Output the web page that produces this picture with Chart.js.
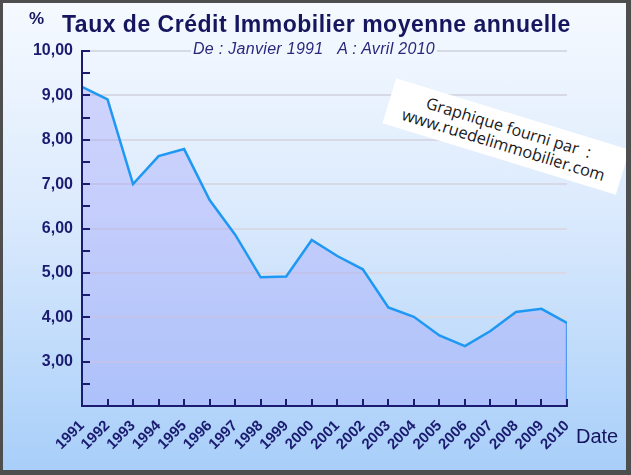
<!DOCTYPE html>
<html>
<head>
<meta charset="utf-8">
<script src="https://cdn.jsdelivr.net/npm/chart.js@4"></script>
<style>
  html, body { margin: 0; padding: 0; }
  #box {
    position: relative; width: 631px; height: 475px; overflow: hidden;
    background: linear-gradient(to bottom, #f6faff 0%, #dbeafd 45%, #a7cef9 100%);
    font-family: "Liberation Sans", Arial, sans-serif;
  }
  #box canvas { position: absolute; left: 0; top: 0; }
  .txt { position: absolute; line-height: 1; white-space: pre; color: #16165e; }
  #frame {
    position: absolute; left: 0; top: 0; width: 631px; height: 475px; box-sizing: border-box;
    border-style: solid; border-color: #4e4e4e; border-width: 3px 5px 5px 3px; pointer-events: none;
  }
  #note {
    position: absolute; left: 384px; top: 113px; width: 244px; height: 47px;
    background: #fff; transform: rotate(17deg);
    font-family: "Open Sans", sans-serif; color: #1a1a1a; text-align: center;
  }
  #note div { white-space: pre; line-height: 18px; }
</style>
</head>
<body>
<div id="box">
  <canvas id="c" width="631" height="475"></canvas>
  <div class="txt" style="left:29px; top:10px; font-size:17px; font-weight:bold;">%</div>
  <div class="txt" style="left:62px; top:13px; font-size:23px; font-weight:bold; letter-spacing:0.5px;">Taux de Crédit Immobilier moyenne annuelle</div>
  <div class="txt" style="left:191px; top:41px; font-size:16px; font-style:italic; color:#28287c; background:#f1f7ff; padding:0 2px; letter-spacing:0.3px;">De : Janvier 1991   A : Avril 2010</div>
  <div class="txt" style="left:576px; top:426px; font-size:20px;">Date</div>
  <div id="note"><div id="l1" style="padding-top:5px;">Graphique fourni par  :</div><div id="l2">www.ruedelimmobilier.com</div></div>
  <div id="frame"></div>
</div>
<script>
// données
const years = [1991, 1992, 1993, 1994, 1995, 1996, 1997, 1998, 1999, 2000,
               2001, 2002, 2003, 2004, 2005, 2006, 2007, 2008, 2009, 2010];
const rates = [9.19, 8.91, 7.00, 7.63, 7.79, 6.64, 5.86, 4.90, 4.92, 5.74,
               5.38, 5.08, 4.22, 4.01, 3.59, 3.35, 3.69, 4.12, 4.19, 3.87];
const yMin = 2;
const yMax = 10;
const yLabels = [3, 4, 5, 6, 7, 8, 9, 10];

const navy = "#1b1b70";

// ajuste la taille du texte du cartouche
function fitLine(id, target) {
  const el = document.getElementById(id);
  let size = 16;
  el.style.fontSize = size + "px";
  const span = document.createElement("span");
  span.textContent = el.textContent;
  span.style.whiteSpace = "pre";
  el.textContent = "";
  el.appendChild(span);
  size = size * target / span.offsetWidth;
  el.style.fontSize = size.toFixed(2) + "px";
}
fitLine("l1", 172);
fitLine("l2", 212);

// petits traits vers l'intérieur + axes
const innerTicks = {
  id: "innerTicks",
  afterDraw(chart) {
    const ctx = chart.ctx;
    const x = chart.scales.x;
    const y = chart.scales.y;
    const area = chart.chartArea;
    ctx.save();
    ctx.strokeStyle = navy;
    ctx.lineWidth = 2;
    ctx.beginPath();
    for (let v = yMin + 0.5; v <= yMax; v += 0.5) {
      const py = Math.round(y.getPixelForValue(v));
      ctx.moveTo(area.left, py);
      ctx.lineTo(area.left + 8, py);
    }
    years.slice(1).forEach((yr) => {
      const px = Math.round(x.getPixelForValue(yr));
      ctx.moveTo(px, area.bottom);
      ctx.lineTo(px, area.bottom - 7);
    });
    ctx.moveTo(area.left, area.top);
    ctx.lineTo(area.left, area.bottom);
    ctx.lineTo(area.right + 1, area.bottom);
    ctx.stroke();
    ctx.restore();
  }
};

const lineColor = "#1e98f2";

new Chart(document.getElementById("c"), {
  type: "line",
  data: {
    datasets: [
      {
        data: years.map((yr, i) => ({ x: yr, y: rates[i] })),
        borderColor: lineColor,
        borderWidth: 2.5,
        backgroundColor: "rgba(160,160,250,0.38)",
        fill: "start",
        pointRadius: 0,
        tension: 0
      },
      {
        data: [
          { x: years[years.length - 1], y: rates[rates.length - 1] },
          { x: years[years.length - 1], y: yMin }
        ],
        borderColor: lineColor,
        borderWidth: 2.5,
        fill: false,
        pointRadius: 0
      }
    ]
  },
  options: {
    responsive: false,
    animation: false,
    layout: { padding: { top: 51, left: 0, right: 64, bottom: 0 } },
    plugins: { legend: { display: false }, tooltip: { enabled: false } },
    scales: {
      x: {
        type: "linear",
        min: years[0],
        max: years[years.length - 1],
        afterFit: (s) => { s.height = 69; },
        grid: { display: false, drawTicks: false },
        border: { display: true, color: navy, width: 2 },
        ticks: {
          stepSize: 1,
          autoSkip: false,
          minRotation: 45,
          maxRotation: 45,
          padding: 11,
          color: navy,
          font: { family: "Liberation Sans", size: 15, weight: "bold" },
          callback: (v) => String(v)
        }
      },
      y: {
        min: yMin,
        max: yMax,
        afterFit: (s) => { s.width = 82; },
        grid: {
          drawTicks: false,
          lineWidth: 2,
          color: (c) => (yLabels.includes(c.tick.value) ? "#d7d9e6" : "rgba(0,0,0,0)")
        },
        border: { display: true, color: navy, width: 2 },
        ticks: {
          stepSize: 0.5,
          padding: 9,
          color: navy,
          font: { family: "Liberation Sans", size: 16, weight: "bold" },
          callback: (v) => (yLabels.includes(v) ? v.toFixed(2).replace(".", ",") : "")
        }
      }
    }
  },
  plugins: [innerTicks]
});
</script>
</body>
</html>
